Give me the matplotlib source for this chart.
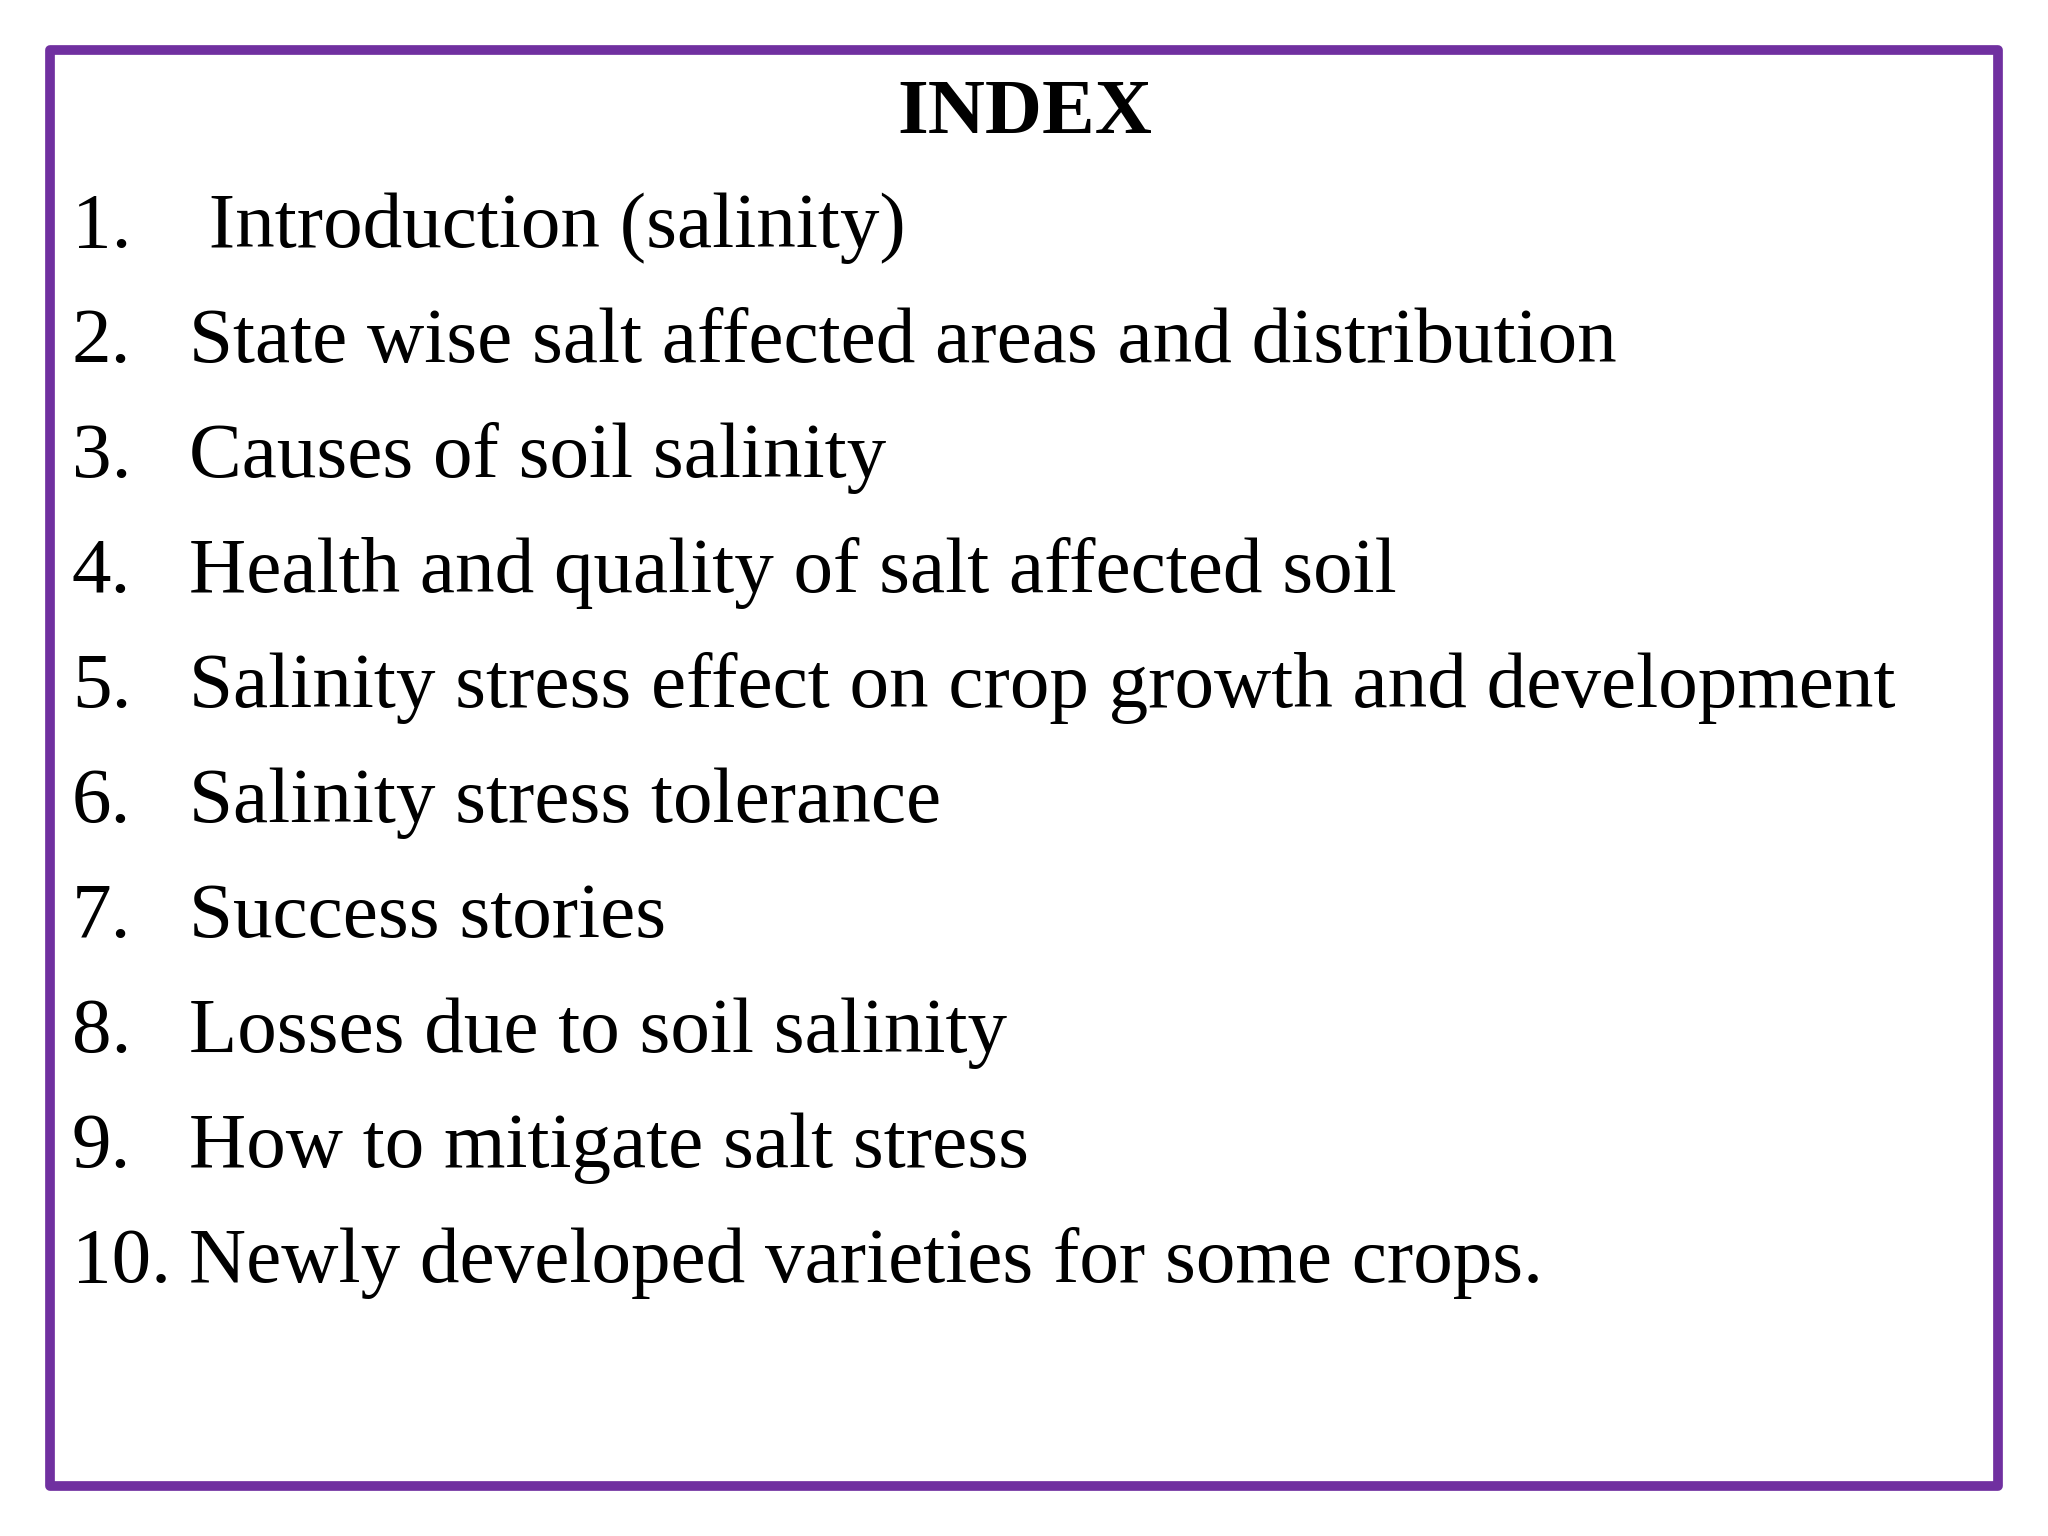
import matplotlib
matplotlib.use("Agg")
import matplotlib.pyplot as plt
from matplotlib.patches import Rectangle

title = "INDEX"
numbers = ["1.", "2.", "3.", "4.", "5.", "6.", "7.", "8.", "9.", "10."]
items = [
    " Introduction (salinity)",
    "State wise salt affected areas and distribution",
    "Causes of soil salinity",
    "Health and quality of salt affected soil",
    "Salinity stress effect on crop growth and development",
    "Salinity stress tolerance",
    "Success stories",
    "Losses due to soil salinity",
    "How to mitigate salt stress",
    "Newly developed varieties for some crops.",
]

W, H = 1568, 1176  # reference layout units
fig = plt.figure(figsize=(20.48, 15.36), dpi=100)
ax = fig.add_axes([0, 0, 1, 1])
ax.set_xlim(0, W)
ax.set_ylim(H, 0)
ax.axis("off")

ax.add_patch(Rectangle((38, 38), 1492, 1100, fill=False,
                       edgecolor="#7030A0", linewidth=7, joinstyle="round"))

font = "Liberation Serif"
fs = 57
ax.text(785, 88, title, ha="center", va="center", fontsize=fs,
        fontweight="bold", family=font)

y0, dy = 175, 88
for i, (num, item) in enumerate(zip(numbers, items)):
    y = y0 + i * dy
    ax.text(55, y, num, ha="left", va="center", fontsize=fs, family=font)
    ax.text(145, y, item, ha="left", va="center", fontsize=fs, family=font)

fig.savefig("out.png", dpi=100, facecolor="white")
